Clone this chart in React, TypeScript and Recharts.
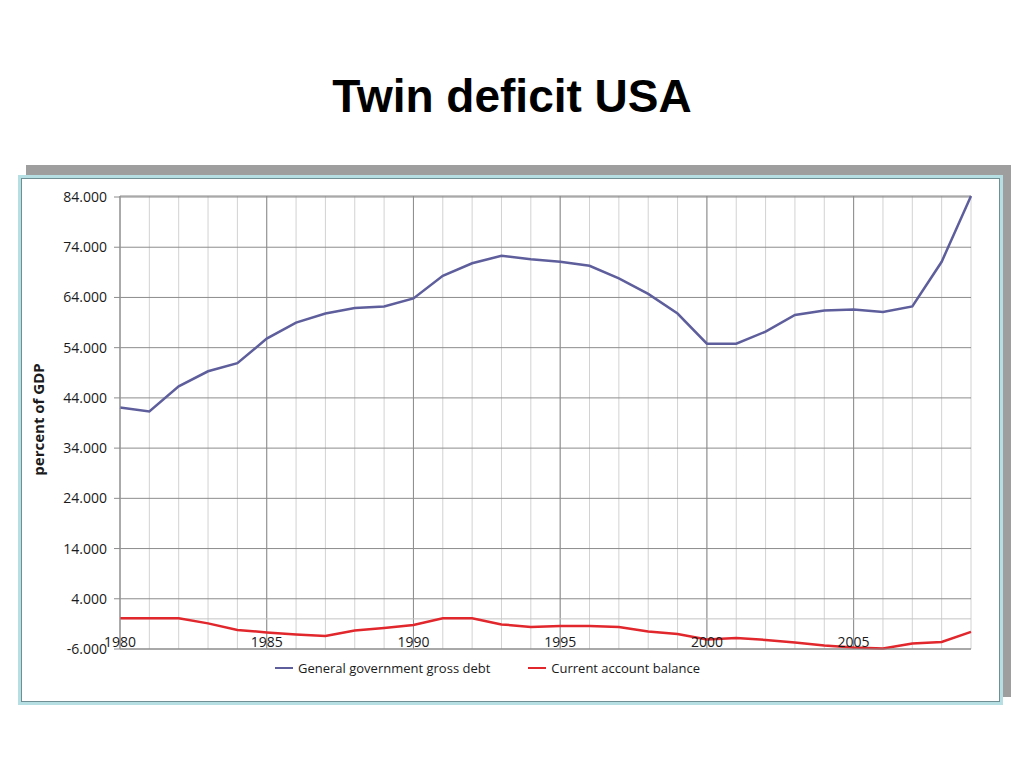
import React from 'react';
import {
    LineChart,
    Line,
    XAxis,
    YAxis,
    CartesianGrid,
    ReferenceLine,
    Legend
} from 'recharts';

// years on the category axis
const years = [
    1980, 1981, 1982, 1983, 1984, 1985, 1986, 1987, 1988, 1989,
    1990, 1991, 1992, 1993, 1994, 1995, 1996, 1997, 1998, 1999,
    2000, 2001, 2002, 2003, 2004, 2005, 2006, 2007, 2008, 2009
];

// General government gross debt, percent of GDP
const grossDebt = [
    42.1, 41.3, 46.3, 49.3, 50.9, 55.8, 59.0, 60.8, 61.9, 62.2,
    63.8, 68.3, 70.8, 72.3, 71.6, 71.1, 70.3, 67.8, 64.7, 60.8,
    54.8, 54.8, 57.2, 60.5, 61.4, 61.6, 61.1, 62.2, 71.1, 84.2
];

// Current account balance, percent of GDP
const currentAccount = [
    0.1, 0.1, 0.1, -0.9, -2.2, -2.7, -3.1, -3.4, -2.3, -1.8,
    -1.2, 0.1, 0.1, -1.1, -1.6, -1.4, -1.4, -1.6, -2.5, -3.0,
    -4.1, -3.8, -4.2, -4.7, -5.3, -5.7, -5.9, -4.9, -4.6, -2.6
];

const seriesNames = ['General government gross debt', 'Current account balance'];

const xTicks = [1980, 1985, 1990, 1995, 2000, 2005];
const yTicks = [-6, 4, 14, 24, 34, 44, 54, 64, 74, 84];

const data = years.map((year, i) => ({
    year,
    debt: grossDebt[i],
    balance: currentAccount[i]
}));

const FONT = '"Open Sans", sans-serif';

function YearTick(props: any) {
    const { x, y, payload } = props;
    return (
        <text x={x} y={y - 2} textAnchor="middle" fontSize={14} fontFamily={FONT} fill="#1a1a1a">
            {payload.value}
        </text>
    );
}

function YLabel(props: any) {
    const vb = props.viewBox;
    const cx = vb.x - 22;
    const cy = vb.y + vb.height / 2 - 3;
    return (
        <text
            x={cx}
            y={cy}
            transform={`rotate(-90, ${cx}, ${cy})`}
            textAnchor="middle"
            dominantBaseline="central"
            fontSize={15}
            fontWeight="bold"
            fontFamily={FONT}
            fill="#1a1a1a"
        >
            percent of GDP
        </text>
    );
}

function renderLegend(props: any) {
    // keep the series order, not the alphabetical one
    const items = [...props.payload].sort(
        (a: any, b: any) => seriesNames.indexOf(a.value) - seriesNames.indexOf(b.value)
    );
    return (
        <div style={{ display: 'flex', gap: 38, alignItems: 'center', height: 16 }}>
            {items.map((p: any) => (
                <div key={p.value} style={{ display: 'flex', alignItems: 'center' }}>
                    <svg width={18} height={4} style={{ marginRight: 5 }}>
                        <line x1={0} y1={2} x2={18} y2={2} stroke={p.color} strokeWidth={2} />
                    </svg>
                    <span style={{ fontFamily: FONT, fontSize: 13, color: '#1a1a1a', whiteSpace: 'nowrap' }}>
                        {p.value}
                    </span>
                </div>
            ))}
        </div>
    );
}

export default function App() {
    return (
        <div style={{ position: 'absolute', left: 0, top: 0, width: 1024, height: 768, background: '#fff', overflow: 'hidden' }}>
            <div
                style={{
                    position: 'absolute',
                    top: 74,
                    left: 0,
                    width: 1024,
                    textAlign: 'center',
                    fontFamily: '"Liberation Sans", Arial, sans-serif',
                    fontWeight: 'bold',
                    fontSize: 46,
                    lineHeight: '45px',
                    color: '#000'
                }}
            >
                Twin deficit USA
            </div>
            {/* shadow behind the chart box */}
            <div style={{ position: 'absolute', left: 26, top: 165, width: 985, height: 532, background: '#9e9e9e' }} />
            <div
                style={{
                    position: 'absolute',
                    left: 18,
                    top: 175,
                    width: 979,
                    height: 524,
                    background: '#fff',
                    border: '3px solid #b5dfe2',
                    boxShadow: 'inset 0 0 0 1px #6f8f94'
                }}
            />
            <div style={{ position: 'absolute', left: 0, top: 0 }}>
                <LineChart width={1024} height={768} data={data} margin={{ top: 196, right: 53, bottom: 99, left: 60 }}>
                    <CartesianGrid horizontal={false} verticalValues={years} stroke="#d2d2d2" strokeWidth={1} />
                    <CartesianGrid horizontal={false} verticalValues={xTicks} stroke="#8c8c8c" strokeWidth={1} />
                    <CartesianGrid vertical={false} stroke="#8c8c8c" strokeWidth={1} />
                    <ReferenceLine y={0} stroke="#c4c4c4" strokeWidth={1} />
                    <XAxis
                        dataKey="year"
                        type="number"
                        domain={[1980, 2009]}
                        ticks={xTicks}
                        interval={0}
                        height={20}
                        tickSize={0}
                        tickMargin={0}
                        tickLine={false}
                        axisLine={{ stroke: '#8c8c8c' }}
                        tick={<YearTick />}
                    />
                    <XAxis
                        xAxisId="top"
                        orientation="top"
                        type="number"
                        domain={[1980, 2009]}
                        ticks={years}
                        interval={0}
                        height={0}
                        tickSize={6}
                        tick={false}
                        axisLine={false}
                        tickLine={{ stroke: '#c8c8c8' }}
                    />
                    <YAxis
                        type="number"
                        domain={[-6, 84]}
                        ticks={yTicks}
                        interval={0}
                        width={60}
                        tickSize={6}
                        tickMargin={7}
                        tickFormatter={(v: number) => v.toFixed(3)}
                        tick={{ fontSize: 14, fontFamily: FONT, fill: '#1a1a1a' }}
                        axisLine={{ stroke: '#9a9a9a' }}
                        tickLine={{ stroke: '#8c8c8c' }}
                        label={<YLabel />}
                    />
                    <Legend
                        verticalAlign="middle"
                        align="center"
                        layout="horizontal"
                        content={renderLegend}
                        wrapperStyle={{ top: 660, left: 275, width: 'auto' }}
                    />
                    <Line
                        type="linear"
                        dataKey="debt"
                        name={seriesNames[0]}
                        stroke="#5e5e9c"
                        strokeWidth={2.5}
                        dot={false}
                        isAnimationActive={false}
                    />
                    <Line
                        type="linear"
                        dataKey="balance"
                        name={seriesNames[1]}
                        stroke="#e1262c"
                        strokeWidth={2.5}
                        dot={false}
                        isAnimationActive={false}
                    />
                </LineChart>
            </div>
        </div>
    );
}
